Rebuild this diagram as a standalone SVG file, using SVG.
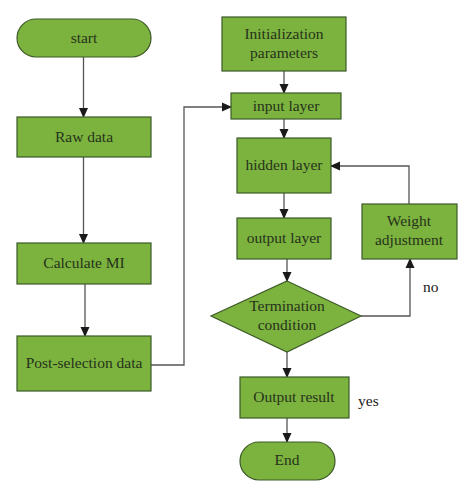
<svg xmlns="http://www.w3.org/2000/svg" width="474" height="497" viewBox="0 0 474 497">
<defs>
<marker id="ah" markerWidth="10" markerHeight="10" refX="9" refY="5" orient="auto" markerUnits="userSpaceOnUse">
<path d="M0,0.5 L10,5 L0,9.5 Z" fill="#1a1a1a"/>
</marker>
<style>
.n{fill:#7cb23e;stroke:#3d5a28;stroke-width:1.2}
.t{font-family:"Liberation Serif","Times New Roman",serif;font-size:15.5px;fill:#25331b;text-anchor:middle}
.l{font-family:"Liberation Serif","Times New Roman",serif;font-size:15.5px;fill:#1a1a1a}
.c{fill:none;stroke:#555;stroke-width:1.3}
</style>
</defs>
<rect width="474" height="497" fill="#fff"/>
<g id="connectors">
<line class="c" x1="83.5" y1="57" x2="83.5" y2="117" marker-end="url(#ah)"/>
<line class="c" x1="83.5" y1="157" x2="83.5" y2="243" marker-end="url(#ah)"/>
<line class="c" x1="85" y1="284" x2="85" y2="336" marker-end="url(#ah)"/>
<polyline class="c" points="151,365 184,365 184,107 231,107" marker-end="url(#ah)"/>
<line class="c" x1="284" y1="71" x2="284" y2="93" marker-end="url(#ah)"/>
<line class="c" x1="284" y1="119" x2="284" y2="138" marker-end="url(#ah)"/>
<line class="c" x1="284" y1="193" x2="284" y2="218" marker-end="url(#ah)"/>
<line class="c" x1="287" y1="259" x2="287" y2="281" marker-end="url(#ah)"/>
<polyline class="c" points="409,204 409,166 331,166" marker-end="url(#ah)"/>
<polyline class="c" points="361,316 410,316 410,259" marker-end="url(#ah)"/>
<line class="c" x1="287" y1="352" x2="287" y2="377" marker-end="url(#ah)"/>
<line class="c" x1="287" y1="418" x2="287" y2="442" marker-end="url(#ah)"/>
</g>
<g id="start"><rect class="n" x="17" y="19" width="134" height="38" rx="19"/><text class="t" x="84" y="43">start</text></g>
<g id="raw"><rect class="n" x="17" y="117" width="134" height="40"/><text class="t" x="84" y="142">Raw data</text></g>
<g id="calc"><rect class="n" x="17" y="243" width="134" height="41"/><text class="t" x="84" y="268">Calculate MI</text></g>
<g id="post"><rect class="n" x="17" y="336" width="134" height="55"/><text class="t" x="84" y="368">Post-selection data</text></g>
<g id="init"><rect class="n" x="222" y="17" width="124" height="54"/><text class="t" x="284" y="39">Initialization</text><text class="t" x="284" y="58">parameters</text></g>
<g id="input"><rect class="n" x="231" y="93" width="110" height="26"/><text class="t" x="286" y="111">input layer</text></g>
<g id="hidden"><rect class="n" x="237" y="138" width="94" height="55"/><text class="t" x="284" y="170">hidden layer</text></g>
<g id="output"><rect class="n" x="237" y="218" width="94" height="41"/><text class="t" x="284" y="243">output layer</text></g>
<g id="weight"><rect class="n" x="362" y="204" width="95" height="55"/><text class="t" x="409" y="226">Weight</text><text class="t" x="409" y="245">adjustment</text></g>
<g id="term"><polygon class="n" points="287,281 361,316 287,352 211,316"/><text class="t" x="287" y="311">Termination</text><text class="t" x="287" y="330">condition</text></g>
<g id="result"><rect class="n" x="240" y="377" width="109" height="41"/><text class="t" x="294" y="402">Output result</text></g>
<g id="end"><rect class="n" x="240" y="442" width="95" height="38" rx="19"/><text class="t" x="287" y="465">End</text></g>
<text class="l" x="423" y="292">no</text>
<text class="l" x="358" y="406">yes</text>
</svg>
